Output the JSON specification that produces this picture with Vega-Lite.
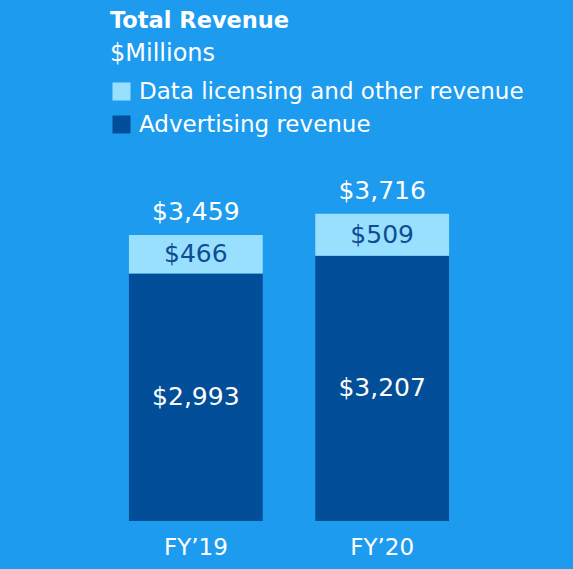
{
  "$schema": "https://vega.github.io/schema/vega-lite/v6.json",
  "autosize": {"type": "none"},
  "padding": {"left": 30, "top": 180, "right": 25, "bottom": 48},
  "width": 518,
  "height": 341,
  "background": "#1C9BEF",
  "title": {
    "text": "Total Revenue",
    "subtitle": "$Millions",
    "anchor": "start",
    "frame": "group",
    "dx": 80,
    "offset": 14,
    "font": "DejaVu Sans",
    "fontSize": 22.5,
    "fontWeight": "bold",
    "color": "white",
    "subtitleFont": "DejaVu Sans",
    "subtitleFontSize": 24,
    "subtitleColor": "white",
    "subtitlePadding": 10
  },
  "data": {
    "values": [
      {"year": "FY’19", "type": "Advertising revenue", "revenue": 2993, "order": 1},
      {"year": "FY’19", "type": "Data licensing and other revenue", "revenue": 466, "order": 2},
      {"year": "FY’20", "type": "Advertising revenue", "revenue": 3207, "order": 1},
      {"year": "FY’20", "type": "Data licensing and other revenue", "revenue": 509, "order": 2}
    ]
  },
  "encoding": {
    "x": {
      "field": "year",
      "type": "nominal",
      "sort": null,
      "scale": {"paddingInner": 0.282, "paddingOuter": 0.531},
      "axis": {
        "title": null,
        "domain": false,
        "ticks": false,
        "tickSize": 0,
        "labelAngle": 0,
        "labelFont": "DejaVu Sans",
        "labelFontSize": 23,
        "labelColor": "white",
        "labelPadding": 15
      }
    }
  },
  "layer": [
    {
      "mark": {"type": "bar"},
      "encoding": {
        "y": {
          "field": "revenue",
          "type": "quantitative",
          "stack": "zero",
          "scale": {"domain": [0, 4124], "nice": false},
          "axis": null
        },
        "order": {"field": "order"},
        "color": {
          "field": "type",
          "type": "nominal",
          "scale": {
            "domain": ["Data licensing and other revenue", "Advertising revenue"],
            "range": ["#99E0FE", "#034E98"]
          },
          "legend": {
            "title": null,
            "orient": "none",
            "legendX": 80,
            "legendY": -100,
            "symbolType": "square",
            "symbolSize": 324,
            "symbolStrokeWidth": 0,
            "symbolOpacity": 1,
            "labelFont": "DejaVu Sans",
            "labelFontSize": 23,
            "labelColor": "white",
            "labelOffset": 6,
            "labelLimit": 500,
            "rowPadding": 9
          }
        }
      }
    },
    {
      "transform": [
        {"stack": "revenue", "groupby": ["year"], "sort": [{"field": "order"}], "as": ["y0", "y1"]},
        {"calculate": "(datum.y0 + datum.y1) / 2", "as": "mid"}
      ],
      "mark": {"type": "text", "baseline": "middle", "font": "DejaVu Sans", "fontSize": 25},
      "encoding": {
        "y": {"field": "mid", "type": "quantitative"},
        "text": {"field": "revenue", "type": "quantitative", "format": "$,"},
        "color": {
          "condition": {"test": "datum.type === 'Data licensing and other revenue'", "value": "#0D4D94"},
          "value": "white"
        }
      }
    },
    {
      "mark": {"type": "text", "baseline": "alphabetic", "dy": -15, "font": "DejaVu Sans", "fontSize": 25, "color": "white"},
      "encoding": {
        "y": {"aggregate": "sum", "field": "revenue", "type": "quantitative"},
        "text": {"aggregate": "sum", "field": "revenue", "type": "quantitative", "format": "$,"}
      }
    }
  ],
  "config": {
    "view": {"stroke": null}
  }
}
